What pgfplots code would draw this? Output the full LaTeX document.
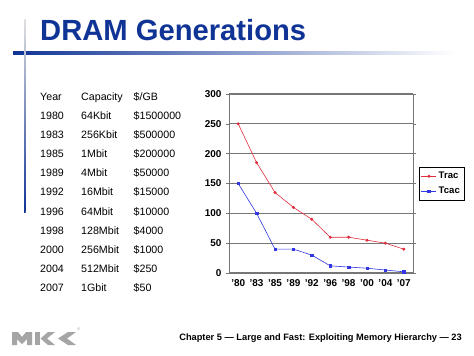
\documentclass[border=0pt]{standalone}
\usepackage{fontspec}
\setmainfont{Liberation Sans}
\usepackage{pgfplots}
\pgfplotsset{compat=1.18}
\definecolor{titleblue}{RGB}{16,52,150}
\definecolor{trac}{RGB}{225,45,60}
\definecolor{tcac}{RGB}{50,55,225}
\definecolor{logogray}{RGB}{165,165,165}
\definecolor{gridgray}{RGB}{118,118,118}
\begin{document}
\begin{tikzpicture}[x=1bp,y=1bp]
\fill[white] (0,0) rectangle (474,355);
\coordinate (AX) at (229,82);
\begin{scope}[shift={(0,355)},yscale=-1]
% title
\node[anchor=base west, inner sep=0, text=titleblue, font=\fontsize{29.3}{30}\selectfont\bfseries] at (40,40.5) {DRAM Generations};
\shade[left color=titleblue, right color=white, shading angle=90] (13,51) rectangle (455,54);
\shade[top color=gray!25, bottom color=titleblue] (24,20) rectangle (25.6,212);
% table
\foreach \y/\c/\p [count=\i from 0] in {Year/Capacity/{\$/GB},1980/64Kbit/\$1500000,1983/256Kbit/\$500000,1985/1Mbit/\$200000,1989/4Mbit/\$50000,1992/16Mbit/\$15000,1996/64Mbit/\$10000,1998/128Mbit/\$4000,2000/256Mbit/\$1000,2004/512Mbit/\$250,2007/1Gbit/\$50}{
  \pgfmathsetmacro{\yy}{100+19.19*\i}
  \node[anchor=base west, inner sep=0, font=\fontsize{10.7}{12}\selectfont] at (40,\yy) {\y};
  \node[anchor=base west, inner sep=0, font=\fontsize{10.7}{12}\selectfont] at (81,\yy) {\c};
  \node[anchor=base west, inner sep=0, font=\fontsize{10.7}{12}\selectfont] at (133.5,\yy) {\p};
}
% footer
\node[anchor=base east, inner sep=0, font=\fontsize{9.3}{10}\selectfont\bfseries] at (462,340) {Chapter 5 — Large and Fast: Exploiting Memory Hierarchy — 23};
% logo
\fill[logogray] (12,345) -- (12,332) -- (18,332) -- (22,337) -- (26,332) -- (32,332) -- (32,345) -- (27,345) -- (27,339) -- (22,344) -- (17,339) -- (17,345) -- cycle;
\fill[logogray] (35,332) rectangle (39.5,345);
\fill[logogray] (48,332) -- (55,332) -- (47,338.5) -- (55,345) -- (48,345) -- (40.5,338.5) -- cycle;
\fill[logogray] (68,332) -- (76,332) -- (67,338.5) -- (76,345) -- (68,345) -- (58,338.5) -- cycle;
\node[inner sep=0, text=logogray, font=\fontsize{4}{4}\selectfont] at (78.5,329) {®};
\end{scope}
\begin{axis}[
  at={(AX)}, anchor=south west, scale only axis,
  width=184bp, height=179bp,
  xmin=-0.5, xmax=9.5, ymin=0, ymax=300,
  xtick={0,...,9},
  xticklabels={'80,'83,'85,'89,'92,'96,'98,'00,'04,'07},
  minor xtick={-0.5,0.5,...,9.5},
  ytick={0,50,...,300},
  ymajorgrids,
  grid style={line width=1.3pt, gridgray},
  axis line style={gridgray, line width=0.8pt},
  tick align=outside,
  major tick length=3bp,
  minor tick length=3bp,
  xtick style={draw=none},
  minor x tick style={gridgray, line width=0.6pt},
  ytick style={gridgray, line width=0.6pt},
  tick label style={font=\fontsize{10}{12}\selectfont\bfseries},
  /pgf/number format/assume math mode=true,
  yticklabel style={xshift=-1bp},
  legend style={at={(1.032,0.592)}, anchor=north west, draw=black, line width=0.5pt, font=\fontsize{9.6}{12}\selectfont\bfseries, inner xsep=2pt, inner ysep=3pt, row sep=3pt, legend cell align=left},
  legend image code/.code={\draw[#1] (0bp,0bp) -- (15bp,0bp); \draw[#1, only marks] plot coordinates {(7.5bp,0bp)};},
]
\addplot[trac, line width=0.6pt, mark=*, mark size=1.2pt] coordinates {(0,250) (1,185) (2,135) (3,110) (4,90) (5,60) (6,60) (7,55) (8,50) (9,40)};
\addlegendentry{Trac}
\addplot[tcac, line width=0.6pt, mark=square*, mark size=1.2pt] coordinates {(0,150) (1,100) (2,40) (3,40) (4,30) (5,12) (6,10) (7,8) (8,5) (9,2)};
\addlegendentry{Tcac}
\end{axis}
\end{tikzpicture}
\end{document}
